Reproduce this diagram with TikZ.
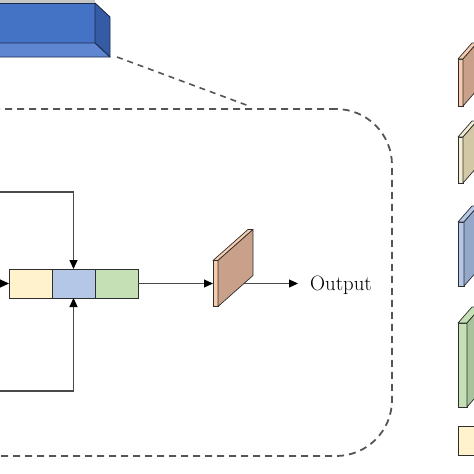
\documentclass[tikz,border=0pt]{standalone}
\usepackage{xcolor}
\usepackage{tikz}
\usetikzlibrary{calc,positioning,arrows.meta,backgrounds}
\definecolor{EdgeDark}{HTML}{2E2E2E}
\definecolor{WireGray}{HTML}{4A4A4A}
\definecolor{DashGray}{HTML}{555555}
\definecolor{CellYellow}{HTML}{FFF2CC}
\definecolor{CellBlue}{HTML}{B4C7E7}
\definecolor{CellGreen}{HTML}{C5E0B4}
\definecolor{ConvLight}{HTML}{F8CBAD}
\definecolor{ConvDark}{HTML}{C9A18A}
\definecolor{PoolLight}{HTML}{F3EED2}
\definecolor{PoolDark}{HTML}{D2C8A6}
\definecolor{FcDark}{HTML}{94A9CA}
\definecolor{GreenDark}{HTML}{A6C39C}
\definecolor{BlockFront}{HTML}{4472C4}
\definecolor{BlockSide}{HTML}{345BA4}
\definecolor{BlockBottom}{HTML}{5F86D0}
\definecolor{BlockEdge}{HTML}{1C2B4D}
\newcommand{\slab}[8]{%
    \node[
        fill=#7,
        draw=EdgeDark,
        line width=0.7pt,
        minimum width=#3,
        minimum height=#4,
        inner sep=0pt,
        outer sep=0pt
    ] (#1) at (#2) {};
    \filldraw[fill=#7, draw=EdgeDark, line width=0.7pt, line join=round]
        (#1.north west) -- (#1.north east) -- ++(#5,-#6) -- ($(#1.north west)+(#5,-#6)$) -- cycle;
    \filldraw[fill=#8, draw=EdgeDark, line width=0.7pt, line join=round]
        (#1.north east) -- ++(#5,-#6) -- ($(#1.south east)+(#5,-#6)$) -- (#1.south east) -- cycle;
}

\begin{document}
\begin{tikzpicture}[
        x=1pt, y=-1pt,
        cell/.style={draw=EdgeDark, line width=0.9pt, minimum width=43pt, minimum height=29pt, inner sep=0pt, outer sep=0pt},
        flow/.style={draw=WireGray, line width=1.2pt, -{Triangle[length=9pt,width=8pt,color=black]}},
        link/.style={draw=DashGray, line width=1.6pt, dash pattern=on 6pt off 5pt},
        frame/.style={draw=DashGray, line width=1.8pt, dash pattern=on 7pt off 5pt, rounded corners=56pt,
            minimum width=452pt, minimum height=347pt, inner sep=0pt}
    ]
        \useasboundingbox (0,0) rectangle (474,474);

        \node[frame] (zone) at (166,282.5) {};

        \node[fill=BlockFront, draw=BlockEdge, line width=0.9pt, minimum width=155pt, minimum height=40pt,
            inner sep=0pt, outer sep=0pt] (enc) at (17.5,23) {};
        \filldraw[fill=BlockSide, draw=BlockEdge, line width=0.9pt, line join=round]
            (enc.north east) -- ++(15,14) -- ++(0,40) -- (enc.south east) -- cycle;
        \filldraw[fill=BlockBottom, draw=BlockEdge, line width=0.9pt, line join=round]
            (enc.south west) -- (enc.south east) -- ++(15,14) -- ($(enc.south west)+(15,14)$) -- cycle;
        \fill[gray!45] (enc.north west) rectangle ($(enc.north east)+(0,-3)$);

        \coordinate (zoomA) at (117,57);
        \coordinate (zoomB) at (249,106);
        \draw[link] (zoomA) -- (zoomB);

        \node[cell, fill=CellYellow] (c1) at (30.5,283.5) {};
        \node[cell, fill=CellBlue, right=0pt of c1] (c2) {};
        \node[cell, fill=CellGreen, right=0pt of c2] (c3) {};

        \coordinate (inL) at (-5,283.5);
        \coordinate (inT) at (-5,192);
        \coordinate (inB) at (-5,391);
        \draw[flow] (inL) -- (c1);
        \draw[flow] (inT) -| (c2.north);
        \draw[flow] (inB) -| (c2.south);

        \slab{conv}{215.5,283.5}{5pt}{46pt}{35}{31}{ConvLight}{ConvDark}
        \draw[flow] (c3) -- (conv);

        \node[anchor=base west, inner xsep=12pt, inner ysep=0pt, font=\fontsize{20.8}{25}\selectfont] (out) at (298,290) {Output};
        \begin{scope}[on background layer]
            \draw[flow] (conv.east) -- (conv.east -| out.west);
        \end{scope}

        \slab{lgConv}{460.5,82.5}{5pt}{47pt}{14}{16}{ConvLight}{ConvDark}
        \slab{lgPool}{460.5,160}{5pt}{46pt}{14}{16}{PoolLight}{PoolDark}
        \slab{lgFc}{461,254}{6pt}{64pt}{14}{16}{CellBlue}{FcDark}
        \slab{lgGru}{462.5,365}{9pt}{84pt}{14}{16}{CellGreen}{GreenDark}
        \node[draw=EdgeDark, line width=0.9pt, fill=CellYellow, minimum width=32pt, minimum height=29pt,
            inner sep=0pt] (lgCat) at (474,440.5) {};
    \end{tikzpicture}
\end{document}
